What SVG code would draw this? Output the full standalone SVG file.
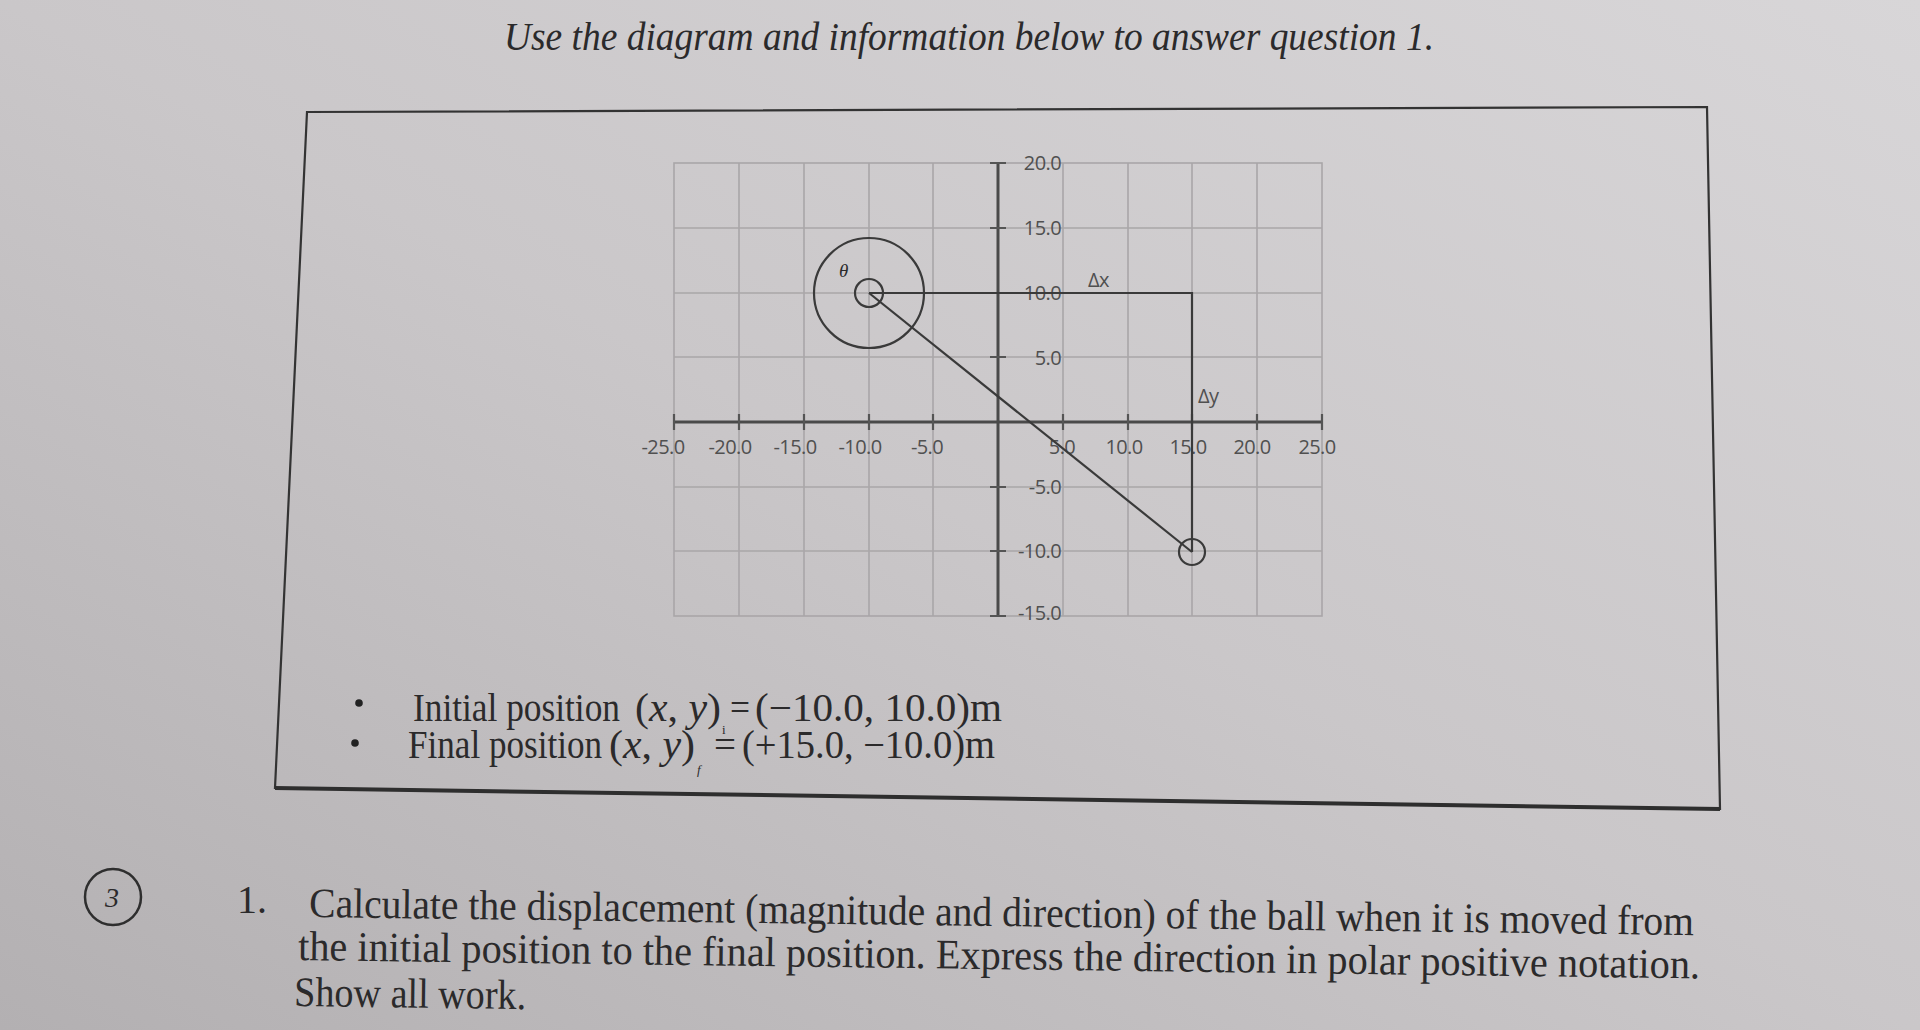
<svg xmlns="http://www.w3.org/2000/svg" width="1920" height="1030" viewBox="0 0 1920 1030">
<defs>
<linearGradient id="paper" x1="1" y1="0" x2="0" y2="1">
<stop offset="0" stop-color="#d8d6d8"/>
<stop offset="0.5" stop-color="#cac7c9"/>
<stop offset="1" stop-color="#b3b0b2"/>
</linearGradient>
<style>
.serif{font-family:"Liberation Serif","Times New Roman",serif;fill:#2b2a2b}
.it{font-style:italic}
.lbl{font-family:"Open Sans","Noto Sans",sans-serif;font-size:20px;fill:#505050;letter-spacing:-0.6px}
.grid{stroke:#a9a6a8;stroke-width:1.6;fill:none}
.axis{stroke:#4a4a4a;stroke-width:3;fill:none}
.tick{stroke:#555;stroke-width:2.2}
.draw{stroke:#3a3a3a;stroke-width:2.2;fill:none}
</style>
</defs>
<rect width="1920" height="1030" fill="url(#paper)"/>

<g id="title">
<text class="serif it" x="504" y="50" font-size="39" textLength="930" lengthAdjust="spacingAndGlyphs" fill="#383738">Use the diagram and information below to answer question 1.</text>
</g>

<g id="frame">
<polygon points="307,112 1707,107 1720,809 275,788" fill="none" stroke="#333" stroke-width="2.2"/>
<line x1="275" y1="788" x2="1720" y2="809" stroke="#2e2e2e" stroke-width="4"/>
</g>

<g id="graph">
<g id="grid">
<rect class="grid" x="674" y="163" width="648" height="453"/>
<path class="grid" d="M739,163V616M804,163V616M869,163V616M933,163V616M1063,163V616M1128,163V616M1192,163V616M1257,163V616M674,228H1322M674,293H1322M674,357H1322M674,487H1322M674,551H1322"/>
</g>
<g id="axes">
<line class="axis" x1="674" y1="422" x2="1322" y2="422"/>
<line class="axis" x1="998" y1="163" x2="998" y2="616" stroke="#5a5a5a"/>
<path class="tick" d="M674,414V430M739,414V430M804,414V430M869,414V430M933,414V430M1063,414V430M1128,414V430M1192,414V430M1257,414V430M1322,414V430"/>
<path class="tick" d="M990,163H1006M990,228H1006M990,293H1006M990,357H1006M990,487H1006M990,551H1006M990,616H1006"/>
</g>
<g id="x-labels" text-anchor="middle">
<text class="lbl" x="663" y="454">-25.0</text>
<text class="lbl" x="730" y="454">-20.0</text>
<text class="lbl" x="795" y="454">-15.0</text>
<text class="lbl" x="860" y="454">-10.0</text>
<text class="lbl" x="927" y="454">-5.0</text>
<text class="lbl" x="1062" y="454">5.0</text>
<text class="lbl" x="1124" y="454">10.0</text>
<text class="lbl" x="1188" y="454">15.0</text>
<text class="lbl" x="1252" y="454">20.0</text>
<text class="lbl" x="1317" y="454">25.0</text>
</g>
<g id="y-labels" text-anchor="end">
<text class="lbl" x="1061" y="170">20.0</text>
<text class="lbl" x="1061" y="235">15.0</text>
<text class="lbl" x="1061" y="300">10.0</text>
<text class="lbl" x="1061" y="365">5.0</text>
<text class="lbl" x="1061" y="494">-5.0</text>
<text class="lbl" x="1061" y="558">-10.0</text>
<text class="lbl" x="1061" y="620">-15.0</text>
</g>
</g>

<g id="connectors">
<polyline class="draw" points="869,293 1192,293 1192,552"/>
<line class="draw" x1="869" y1="293" x2="1192" y2="552"/>
</g>

<g id="initial-ball">
<circle class="draw" cx="869" cy="293" r="55" stroke="#4a4a4a"/>
<circle class="draw" cx="869" cy="293" r="14"/>
<text class="serif it" x="839" y="277" font-size="19" fill="#555">θ</text>
</g>
<g id="final-ball">
<circle class="draw" cx="1192" cy="552" r="13"/>
</g>
<g id="delta-labels">
<text class="lbl" x="1088" y="287" letter-spacing="3">Δx</text>
<text class="lbl" x="1198" y="403" font-size="21" letter-spacing="2">Δy</text>
</g>

<g id="info">
<circle cx="359" cy="703" r="3.8" fill="#222"/>
<circle cx="355" cy="743" r="3.8" fill="#222"/>
<text class="serif" x="413" y="721" font-size="40" textLength="207" lengthAdjust="spacingAndGlyphs">Initial position</text>
<text class="serif" x="635" y="721" font-size="40" textLength="86" lengthAdjust="spacingAndGlyphs">(<tspan font-style="italic">x</tspan>, <tspan font-style="italic">y</tspan>)</text>
<text class="serif" x="722" y="734" font-size="13">i</text>
<text class="serif" x="730" y="721" font-size="40" textLength="20" lengthAdjust="spacingAndGlyphs">=</text>
<text class="serif" x="755" y="721" font-size="40" textLength="247" lengthAdjust="spacingAndGlyphs">(−10.0, 10.0)m</text>
<text class="serif" x="408" y="758" font-size="40" textLength="194" lengthAdjust="spacingAndGlyphs">Final position</text>
<text class="serif" x="609" y="758" font-size="40" textLength="86" lengthAdjust="spacingAndGlyphs">(<tspan font-style="italic">x</tspan>, <tspan font-style="italic">y</tspan>)</text>
<text class="serif it" x="697" y="774" font-size="13">f</text>
<text class="serif" x="714" y="758" font-size="40" textLength="22" lengthAdjust="spacingAndGlyphs">=</text>
<text class="serif" x="742" y="758" font-size="40" textLength="253" lengthAdjust="spacingAndGlyphs">(+15.0, −10.0)m</text>
</g>

<g id="question">
<circle cx="113" cy="897" r="28" fill="none" stroke="#2e2e2e" stroke-width="2.5"/>
<text class="serif it" x="112" y="907" font-size="28" text-anchor="middle">3</text>
<text class="serif" x="237" y="913" font-size="40">1.</text>
<text class="serif" x="309" y="917" font-size="42" textLength="1385" lengthAdjust="spacingAndGlyphs" transform="rotate(0.75 309 917)">Calculate the displacement (magnitude and direction) of the ball when it is moved from</text>
<text class="serif" x="298" y="960" font-size="42" textLength="1402" lengthAdjust="spacingAndGlyphs" transform="rotate(0.75 298 960)">the initial position to the final position.  Express the direction in polar positive notation.</text>
<text class="serif" x="294" y="1006" font-size="42" textLength="232" lengthAdjust="spacingAndGlyphs" transform="rotate(0.75 294 1006)">Show all work.</text>
</g>
</svg>
